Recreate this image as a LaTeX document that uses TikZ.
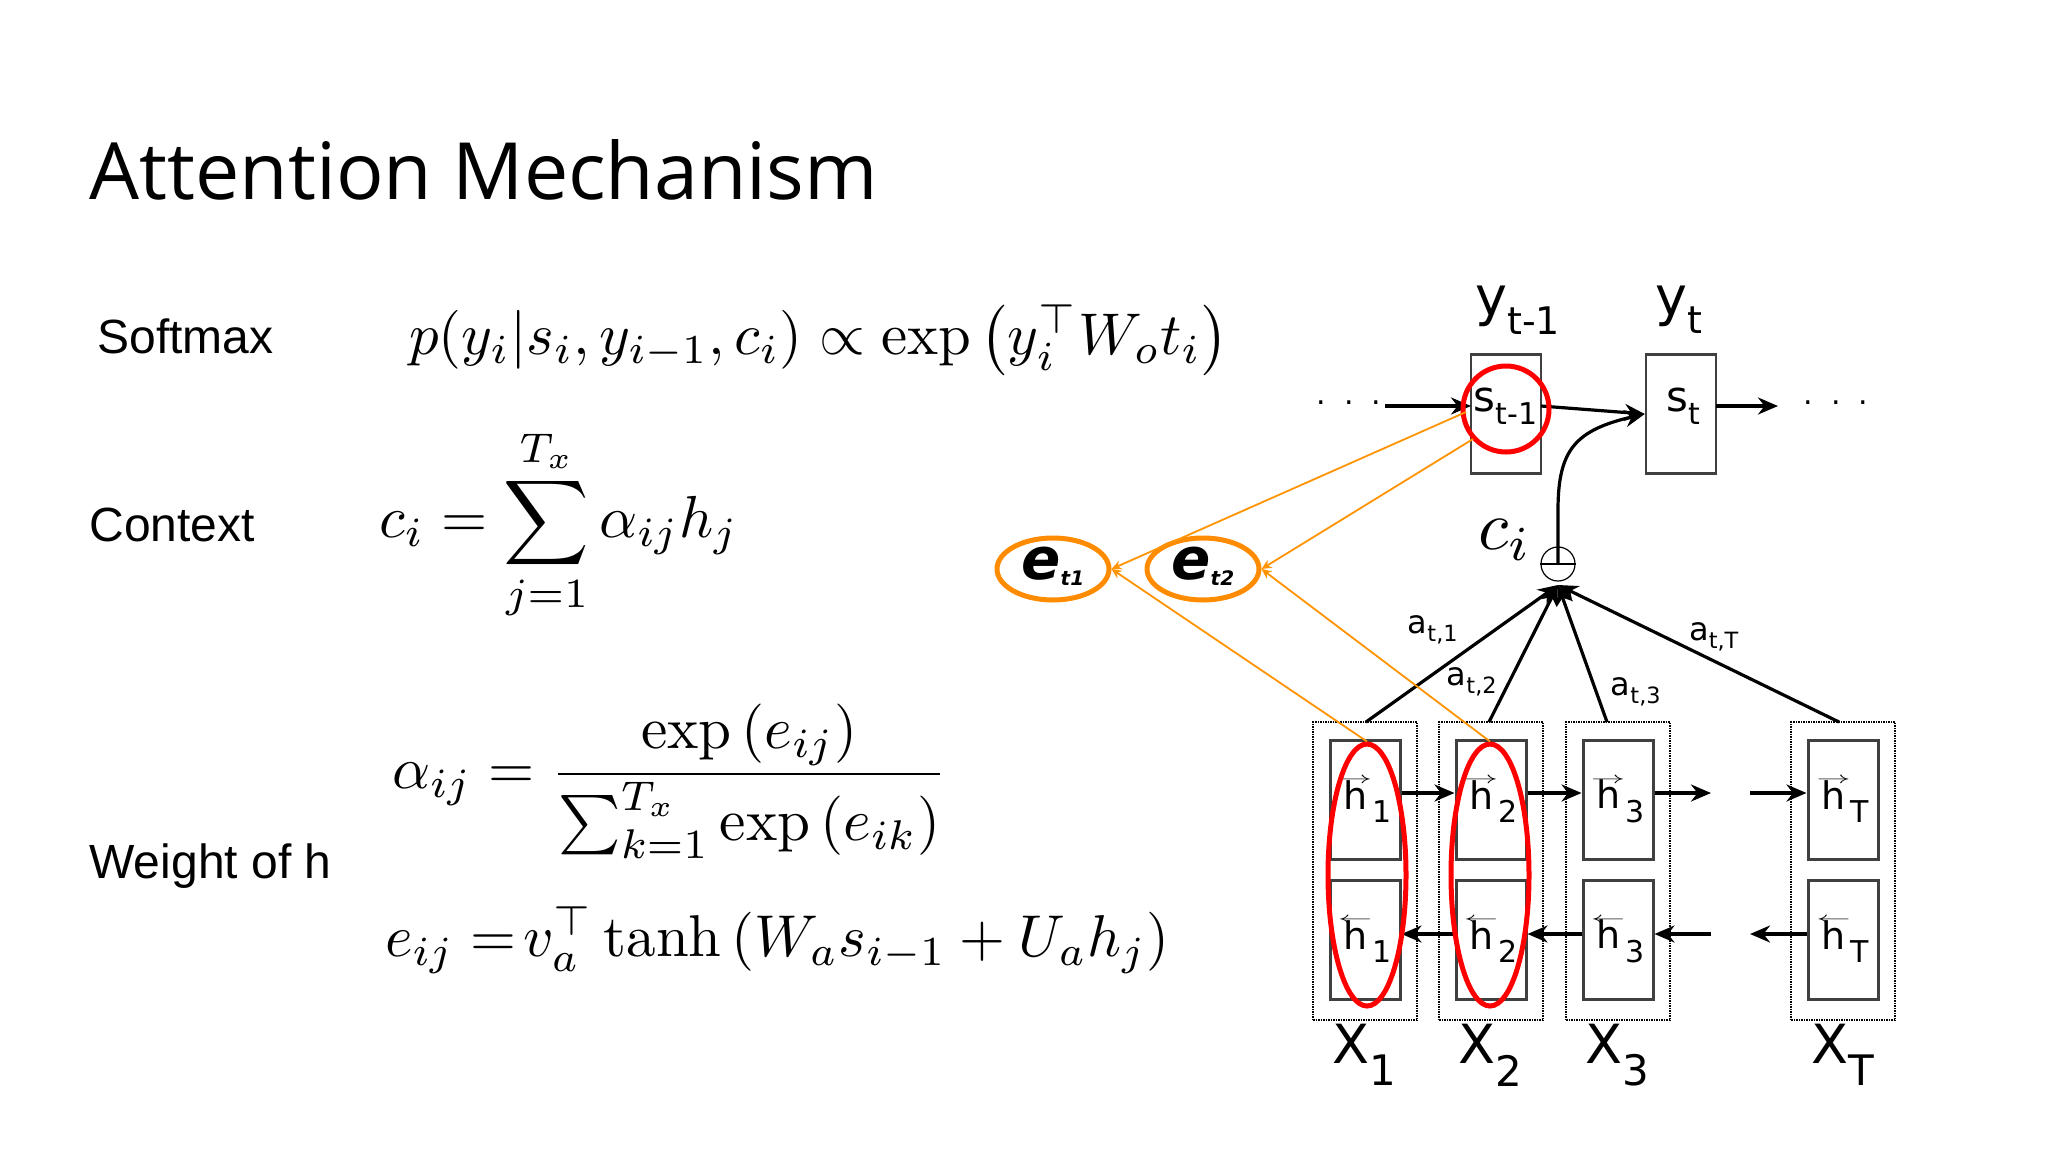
\documentclass[tikz,border=0pt]{standalone}
\usepackage{amsmath}
\usepackage{fontspec}
\newfontfamily\djfont{DejaVu Sans}
\newfontfamily\titlefont{Open Sans}
\newfontfamily\labfont{Liberation Sans}
\usetikzlibrary{arrows.meta,shapes.geometric}
\tikzset{
 sbox/.style={draw=black!75,line width=2.5pt,minimum width=70pt,minimum height=119pt,inner sep=0pt},
 hbox/.style={draw=black!75,line width=3pt,minimum width=70pt,minimum height=119pt,inner sep=0pt,font=\djfont\fontsize{38}{40}\selectfont},
 grp/.style={draw,densely dotted,line width=1.5pt,minimum width=104pt,minimum height=298pt,inner sep=0pt},
 arr/.style={line width=3.2pt,-{Stealth[length=20pt,width=17pt]}},
 org/.style={draw=orange!85!yellow,line width=1.8pt,-{Stealth[length=10pt,width=9pt]}},
 lab/.style={font=\labfont\fontsize{48}{50}\selectfont,anchor=west},
 big/.style={font=\djfont\fontsize{54}{56}\selectfont},
 alab/.style={font=\djfont\fontsize{32}{34}\selectfont},
 eell/.style={draw=orange!90!yellow,line width=5pt,ellipse,minimum width=112pt,minimum height=62pt,inner sep=0pt}
}
\begin{document}
\begin{tikzpicture}[x=1pt,y=-1pt]
\useasboundingbox[fill=white] (0,0) rectangle (2048,1152);
\node[anchor=west,font=\titlefont\fontsize{79}{84}\selectfont] (title) at (86,170) {Attention Mechanism};
\node[lab] (lsm) at (94,336) {Softmax};
\node[lab] (lctx) at (86,525) {Context};
\node[lab] (lwh) at (86,866) {Weight of h};
\node[anchor=west,inner sep=0pt] (eq1) at (409,340) {\resizebox{819pt}{!}{$p(y_i|s_i,y_{i-1},c_i)\propto\exp\left(y_i^{\top}W_o t_i\right)$}};
\node[anchor=west,inner sep=0pt] (eq2) at (379,525) {\resizebox{359pt}{!}{$\displaystyle c_i=\sum_{j=1}^{T_x}\alpha_{ij}h_j$}};
\node[anchor=west,inner sep=0pt] (eq3) at (392,781) {\resizebox{555pt}{!}{$\displaystyle \alpha_{ij}=\frac{\exp\left(e_{ij}\right)}{\sum_{k=1}^{T_x}\exp\left(e_{ik}\right)}$}};
\node[anchor=west,inner sep=0pt] (eq4) at (385,940) {\resizebox{784pt}{!}{$e_{ij}=\!v_a^{\top}\tanh\left(W_a s_{i-1}+U_a h_j\right)$}};
% decoder
\node[sbox] (s1) at (1506,414) {};
\node[sbox] (s2) at (1681,414) {};
\node[big] (y1) at (1518,310) {y\textsubscript{\fontsize{38}{40}\selectfont t-1}};
\node[big] (y2) at (1679,310) {y\textsubscript{\fontsize{38}{40}\selectfont t}};
\node[font=\djfont\fontsize{42}{44}\selectfont] (s1t) at (1506,406) {s\textsubscript{\fontsize{30}{32}\selectfont t-1}};
\node[font=\djfont\fontsize{42}{44}\selectfont] (s2t) at (1684,406) {s\textsubscript{\fontsize{30}{32}\selectfont t}};
\node[font=\djfont\fontsize{30}{30}\selectfont] (dl) at (1349,403) {.\hspace{18pt}.\hspace{18pt}.};
\node[font=\djfont\fontsize{30}{30}\selectfont] (dr) at (1836,403) {.\hspace{18pt}.\hspace{18pt}.};
\coordinate (al) at (1385,406);
\coordinate (ar) at (1778,406);
\draw[arr] (al) -- (1471,406);
\draw[arr] (1541,406) -- (s2.west);
\draw[arr] (1716,406) -- (ar);
\node[draw=red,line width=5pt,circle,minimum size=86pt,inner sep=0pt] (rc) at (1506,409) {};
% plus
\node[draw,circle,minimum size=34pt,inner sep=0pt,line width=1.2pt] (pl) at (1558,564) {};
\draw[line width=2.5pt] (pl.west) -- (pl.east);
\node (ci) at (1505,540) {\resizebox{!}{30pt}{$c_i$}};
\draw[arr] (pl.center) -- (1558,510) .. controls (1558,450) and (1575,430) .. (s2.west);
% encoder
\foreach \n/\x/\s in {1/1365/1,2/1491/2,3/1618/3,4/1843/T}{
 \node[grp] (g\n) at (\x,871) {};
 \node[hbox] (f\n) at (\x,800) {\shortstack{\resizebox{34pt}{6pt}{$\rightarrow$}\\[-6pt]h}\textsubscript{\fontsize{30}{30}\selectfont\s}};
 \node[hbox] (b\n) at (\x,940) {\shortstack{\resizebox{34pt}{6pt}{$\leftarrow$}\\[-6pt]h}\textsubscript{\fontsize{30}{30}\selectfont\s}};
 \node[big] (x\n) at (\x,1055) {X\textsubscript{\fontsize{42}{42}\selectfont\s}};
}
\coordinate (pb) at (1558,585);
\draw[arr] (1366,722) -- (pb);
\draw[arr] (1489,722) -- (pb);
\draw[arr] (1607,722) -- (pb);
\draw[arr] (1839,722) -- (pb);
\node[alab] (a1) at (1433,630) {a\textsubscript{t,1}};
\node[alab] (a2) at (1472,682) {a\textsubscript{t,2}};
\node[alab] (a3) at (1636,692) {a\textsubscript{t,3}};
\node[alab] (aT) at (1714,637) {a\textsubscript{t,T}};
\coordinate (fo) at (1711,793);
\coordinate (fi) at (1750,793);
\coordinate (bo) at (1711,934);
\coordinate (bi) at (1750,934);
\draw[arr] (f1.east |- fo) -- (f2.west |- fo);
\draw[arr] (f2.east |- fo) -- (f3.west |- fo);
\draw[arr] (f3.east |- fo) -- (fo);
\draw[arr] (fi) -- (f4.west |- fi);
\draw[arr] (b2.west |- bo) -- (b1.east |- bo);
\draw[arr] (b3.west |- bo) -- (b2.east |- bo);
\draw[arr] (bo) -- (b3.east |- bo);
\draw[arr] (b4.west |- bi) -- (bi);
\node[draw=red,line width=5pt,ellipse,minimum width=78pt,minimum height=262pt,inner sep=0pt] (r1) at (1367,875) {};
\node[draw=red,line width=5pt,ellipse,minimum width=78pt,minimum height=262pt,inner sep=0pt] (r2) at (1490,875) {};
% e nodes
\node[eell] (e1) at (1053,569) {};
\node[eell] (e2) at (1203,569) {};
\node[font=\djfont\bfseries\itshape\fontsize{58}{58}\selectfont] (e1t) at (1053,566) {e\textsubscript{\fontsize{20}{20}\selectfont t1}};
\node[font=\djfont\bfseries\itshape\fontsize{58}{58}\selectfont] (e2t) at (1203,566) {e\textsubscript{\fontsize{20}{20}\selectfont t2}};
\coordinate (o1) at (1466,412);
\coordinate (o2) at (1473,439);
\draw[org] (o1) -- (e1.east);
\draw[org] (o2) -- (e2.east);
\draw[org] (r1.north) -- (e1.east);
\draw[org] (r2.north) -- (e2.east);
\end{tikzpicture}
\end{document}
